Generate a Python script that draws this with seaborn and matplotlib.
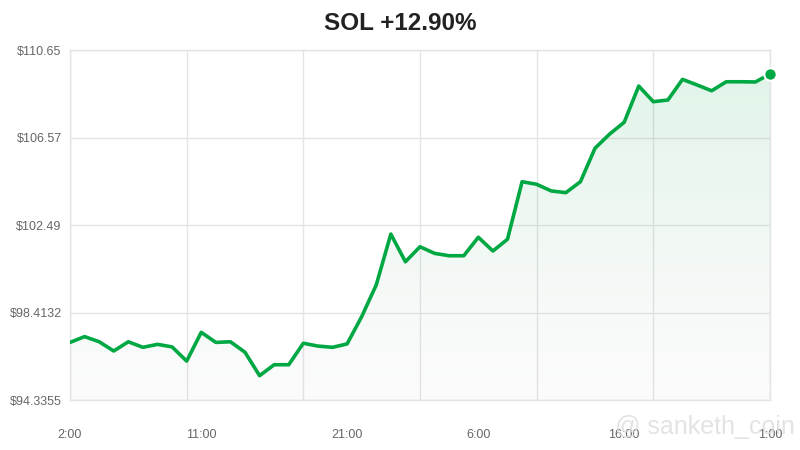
import numpy as np
import matplotlib
matplotlib.use("Agg")
import matplotlib.pyplot as plt
from matplotlib.patches import PathPatch
import pandas as pd
import seaborn as sns

# hourly SOL price
prices = [97.02, 97.29, 97.05, 96.62, 97.05, 96.79, 96.93, 96.81, 96.15, 97.49,
          97.02, 97.05, 96.56, 95.47, 95.98, 95.98, 96.98, 96.85, 96.79, 96.95,
          98.22, 99.70, 102.07, 100.78, 101.48, 101.17, 101.06, 101.06, 101.92, 101.28,
          101.83, 104.51, 104.39, 104.08, 104.00, 104.51, 106.07, 106.73, 107.28, 108.97,
          108.24, 108.32, 109.28, 109.02, 108.75, 109.17, 109.17, 109.16, 109.53]
label_pos = [0, 9, 19, 28, 38, 48]
label_text = ["2:00", "11:00", "21:00", "6:00", "16:00", "1:00"]
grid_pos = [0, 8, 16, 24, 32, 40, 48]
y_ticks = [94.3355, 98.4132, 102.49, 106.57, 110.65]
y_labels = ["$94.3355", "$98.4132", "$102.49", "$106.57", "$110.65"]
title = "SOL +12.90%"

GREEN = "#00a844"
GRID = "#e4e4e4"

sns.set_theme(style="white")
plt.rcParams["font.family"] = ["Liberation Sans", "DejaVu Sans"]

df = pd.DataFrame({"idx": np.arange(len(prices)), "price": prices})

fig = plt.figure(figsize=(8, 4.5), dpi=100)
ax = fig.add_axes([70 / 800, 50 / 450, 700 / 800, 350 / 450])
ymin, ymax = y_ticks[0], y_ticks[-1]
xmax = len(prices) - 1

# gradient fill under the line
poly = ax.fill_between(df["idx"], df["price"], ymin, color="none", lw=0)
n = 256
grad = np.zeros((n, 1, 4))
t = np.linspace(0, 1, n)[:, None]  # 0 top -> 1 bottom
top = np.array([0 / 255, 168 / 255, 68 / 255, 0.13])
bot = np.array([190 / 255, 190 / 255, 190 / 255, 0.06])
grad[:, 0, :] = top * (1 - t) + bot * t
img = ax.imshow(grad, extent=[0, xmax, ymin, ymax], aspect="auto",
                origin="upper", zorder=1)
path = poly.get_paths()[0]
clip = PathPatch(path, transform=ax.transData, facecolor="none", edgecolor="none")
ax.add_patch(clip)
img.set_clip_path(clip)

sns.lineplot(data=df, x="idx", y="price", ax=ax, color=GREEN, lw=2.6, zorder=3)
ax.scatter([df["idx"].iloc[-1]], [df["price"].iloc[-1]], s=80, color=GREEN,
           edgecolor="white", linewidth=1.5, zorder=4, clip_on=False)

ax.set_xlim(0, xmax)
ax.set_ylim(ymin, ymax)

# grid lines at major ticks, labels at minor ticks
ax.xaxis.remove_overlapping_locs = False
ax.set_xticks(grid_pos)
ax.set_xticklabels([])
ax.set_xticks(label_pos, minor=True)
ax.set_xticklabels(label_text, minor=True)
ax.tick_params(axis="x", which="both", length=0)
ax.tick_params(axis="x", which="minor", pad=21, labelsize=9, labelcolor="#666666")
ax.set_yticks(y_ticks)
ax.set_yticklabels(y_labels)
ax.tick_params(axis="y", length=0, pad=6, labelsize=9, labelcolor="#666666")
ax.grid(True, which="major", color=GRID, lw=1, zorder=0)
ax.set_axisbelow(True)
for s in ax.spines.values():
    s.set_color(GRID)
    s.set_linewidth(1)
ax.set_xlabel("")
ax.set_ylabel("")

fig.text(0.5, 1 - 23 / 450, title, ha="center", va="center",
         fontsize=17.5, fontweight="bold", color="#222222")

# watermark
fig.text(615 / 800, 1 - 427 / 450, "@ sanketh_coin", ha="left", va="center",
         fontsize=18, color="#dddddd", alpha=0.8)

fig.savefig("out.png", dpi=100)
